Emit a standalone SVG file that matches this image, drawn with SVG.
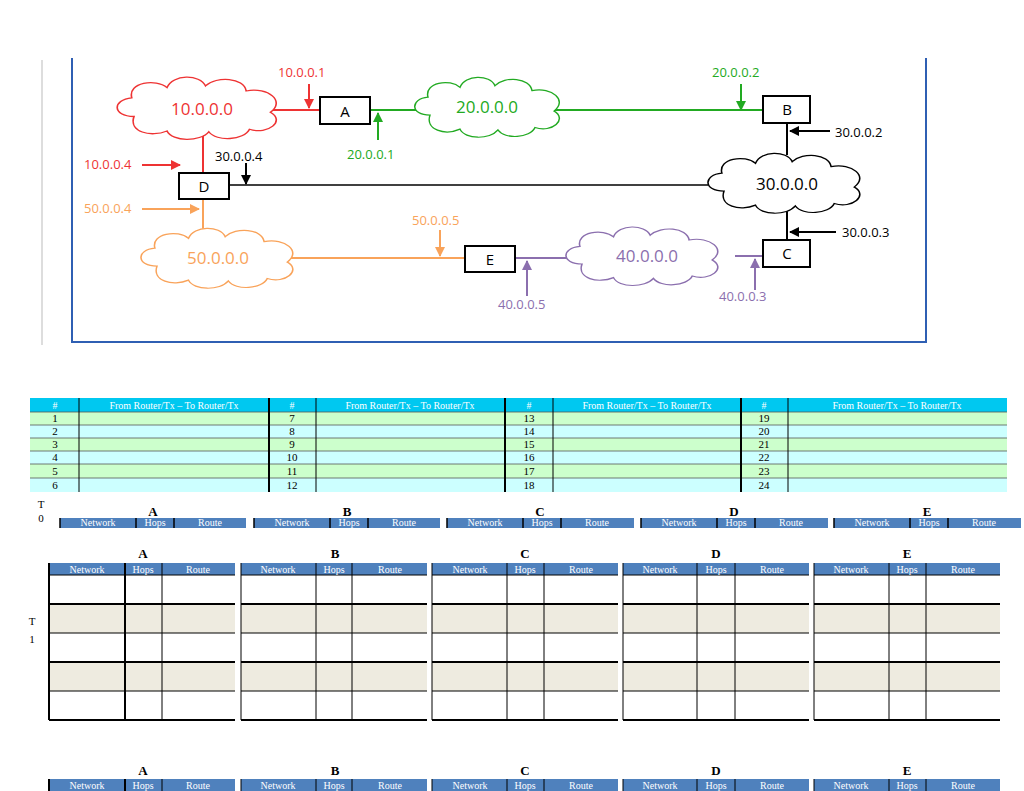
<svg xmlns="http://www.w3.org/2000/svg" width="1024" height="791" viewBox="0 0 1024 791">
<defs>
<style>
.lbl{font-family:"Open Sans","DejaVu Sans",sans-serif;font-size:13px}
.cl{font-family:"Open Sans","DejaVu Sans",sans-serif;font-size:17px}
.rt{fill:#fff;stroke:#000;stroke-width:2}
.rtt{font-family:"Open Sans","DejaVu Sans",sans-serif;font-size:15px;text-anchor:middle}
.tm{font-family:"Liberation Serif",serif;font-size:11px;text-anchor:middle}
.hd{font-family:"Liberation Serif",serif;font-size:10px;fill:#fff;text-anchor:middle}
.ttl{font-family:"Liberation Serif",serif;font-size:13px;font-weight:bold;text-anchor:middle}
</style>
<marker id="ar" viewBox="0 0 10 10" refX="9" refY="5" markerWidth="5" markerHeight="5" orient="auto"><path d="M0,0L10,5L0,10z" fill="context-stroke"/></marker>
<path id="cloud" d="M-60,10 C-80,10 -80,-10 -62,-12 C-66,-30 -40,-35 -30,-24 C-25,-40 0,-40 5,-26 C15,-38 40,-36 42,-20 C62,-25 78,-8 64,5 C78,15 62,32 45,25 C40,38 15,40 8,28 C0,40 -25,40 -30,27 C-45,35 -65,28 -60,10 Z"/>
</defs>
<rect width="1024" height="791" fill="#fff"/>
<g id="frame" fill="none">
<line x1="42" y1="60" x2="42" y2="345" stroke="#ddd" stroke-width="2"/>
<path d="M72,58V342H926V58" stroke="#2f5fb3" stroke-width="2"/>
</g>
<g id="connectors" stroke-width="2" fill="none">
<line x1="203" y1="110" x2="320" y2="110" stroke="#e33"/>
<line x1="203" y1="135" x2="203" y2="173" stroke="#e33"/>
<line x1="370" y1="110" x2="440" y2="110" stroke="#2a2"/>
<line x1="550" y1="110" x2="763" y2="110" stroke="#2a2"/>
<line x1="229" y1="185" x2="708" y2="185" stroke="#000" stroke-width="1.5"/>
<line x1="787" y1="124" x2="787" y2="155" stroke="#000"/>
<line x1="787" y1="205" x2="787" y2="240" stroke="#000"/>
<line x1="203" y1="199" x2="203" y2="232" stroke="#f9a35a"/>
<line x1="290" y1="258" x2="465" y2="258" stroke="#f9a35a"/>
<line x1="515" y1="258" x2="575" y2="258" stroke="#8b6fae"/>
<line x1="735" y1="256" x2="763" y2="256" stroke="#8b6fae"/>
<line x1="309" y1="84" x2="309" y2="108" stroke="#e33" marker-end="url(#ar)"/>
<line x1="378" y1="140" x2="378" y2="113" stroke="#2a2" marker-end="url(#ar)"/>
<line x1="741" y1="84" x2="741" y2="110" stroke="#2a2" marker-end="url(#ar)"/>
<line x1="830" y1="131" x2="790" y2="131" stroke="#000" marker-end="url(#ar)"/>
<line x1="142" y1="165" x2="180" y2="165" stroke="#e33" marker-end="url(#ar)"/>
<line x1="246" y1="163" x2="246" y2="184" stroke="#000" marker-end="url(#ar)"/>
<line x1="142" y1="209" x2="199" y2="209" stroke="#f9a35a" marker-end="url(#ar)"/>
<line x1="440" y1="230" x2="440" y2="256" stroke="#f9a35a" marker-end="url(#ar)"/>
<line x1="836" y1="232" x2="790" y2="232" stroke="#000" marker-end="url(#ar)"/>
<line x1="527" y1="296" x2="527" y2="261" stroke="#8b6fae" marker-end="url(#ar)"/>
<line x1="755" y1="290" x2="755" y2="259" stroke="#8b6fae" marker-end="url(#ar)"/>
</g>
<g id="net10"><use href="#cloud" transform="translate(200,108) scale(1.1,0.85)" fill="#fff" stroke="#e33" stroke-width="1.5"/><text class="cl" x="202" y="115" text-anchor="middle" fill="#e33">10.0.0.0</text></g>
<g id="net20"><use href="#cloud" transform="translate(490,107) scale(1.0,0.82)" fill="#fff" stroke="#2a2" stroke-width="1.5"/><text class="cl" x="487" y="113" text-anchor="middle" fill="#2a2">20.0.0.0</text></g>
<g id="net30"><use href="#cloud" transform="translate(787,183) scale(1.05,0.82)" fill="#fff" stroke="#000" stroke-width="1.5"/><text class="cl" x="787" y="190" text-anchor="middle" fill="#000">30.0.0.0</text></g>
<g id="net50"><use href="#cloud" transform="translate(220,258) scale(1.05,0.82)" fill="#fff" stroke="#f9a35a" stroke-width="1.5"/><text class="cl" x="218" y="264" text-anchor="middle" fill="#f9a35a">50.0.0.0</text></g>
<g id="net40"><use href="#cloud" transform="translate(645,256) scale(1.05,0.8)" fill="#fff" stroke="#8b6fae" stroke-width="1.5"/><text class="cl" x="647" y="262" text-anchor="middle" fill="#8b6fae">40.0.0.0</text></g>
<g id="rA"><rect class="rt" x="320" y="97" width="50" height="27"/><text class="rtt" x="345" y="117">A</text></g>
<g id="rB"><rect class="rt" x="763" y="96" width="47" height="27"/><text class="rtt" x="787" y="115">B</text></g>
<g id="rD"><rect class="rt" x="179" y="173" width="50" height="26"/><text class="rtt" x="204" y="192">D</text></g>
<g id="rE"><rect class="rt" x="465" y="246" width="50" height="26"/><text class="rtt" x="490" y="265">E</text></g>
<g id="rC"><rect class="rt" x="763" y="240" width="47" height="27"/><text class="rtt" x="787" y="259">C</text></g>
<g id="labels" class="lbl">
<text x="278" y="77" fill="#e33">10.0.0.1</text>
<text x="347" y="159" fill="#2a2">20.0.0.1</text>
<text x="712" y="77" fill="#2a2">20.0.0.2</text>
<text x="835" y="137" fill="#000">30.0.0.2</text>
<text x="84" y="169" fill="#e33">10.0.0.4</text>
<text x="215" y="161" fill="#000">30.0.0.4</text>
<text x="84" y="213" fill="#f9a35a">50.0.0.4</text>
<text x="412" y="225" fill="#f9a35a">50.0.0.5</text>
<text x="842" y="237" fill="#000">30.0.0.3</text>
<text x="498" y="309" fill="#8b6fae">40.0.0.5</text>
<text x="719" y="301" fill="#8b6fae">40.0.0.3</text>
</g>
<g id="txtable">
<rect x="30" y="398" width="977" height="14" fill="#00c8f0"/>
<rect x="30" y="412" width="977" height="13" fill="#ccffcc"/>
<rect x="30" y="425" width="977" height="13" fill="#ccffff"/>
<rect x="30" y="438" width="977" height="13" fill="#ccffcc"/>
<rect x="30" y="451" width="977" height="13" fill="#ccffff"/>
<rect x="30" y="464" width="977" height="14" fill="#ccffcc"/>
<rect x="30" y="478" width="977" height="14" fill="#ccffff"/>
<g stroke="#555" stroke-width="0.8"><line x1="30" y1="412" x2="1007" y2="412"/><line x1="30" y1="425" x2="1007" y2="425"/><line x1="30" y1="438" x2="1007" y2="438"/><line x1="30" y1="451" x2="1007" y2="451"/><line x1="30" y1="464" x2="1007" y2="464"/><line x1="30" y1="478" x2="1007" y2="478"/></g>
<g stroke="#000" stroke-width="1"><line x1="79" y1="398" x2="79" y2="492"/><line x1="316" y1="398" x2="316" y2="492"/><line x1="553" y1="398" x2="553" y2="492"/><line x1="788" y1="398" x2="788" y2="492"/></g>
<g stroke="#000" stroke-width="2"><line x1="269" y1="398" x2="269" y2="492"/><line x1="505" y1="398" x2="505" y2="492"/><line x1="741" y1="398" x2="741" y2="492"/></g>
<g class="hd"><text x="55" y="409">#</text><text x="174" y="409">From Router/Tx – To Router/Tx</text><text x="292" y="409">#</text><text x="410" y="409">From Router/Tx – To Router/Tx</text><text x="529" y="409">#</text><text x="647" y="409">From Router/Tx – To Router/Tx</text><text x="764" y="409">#</text><text x="897" y="409">From Router/Tx – To Router/Tx</text></g>
<g class="tm">
<text x="55" y="422">1</text><text x="55" y="435">2</text><text x="55" y="448">3</text><text x="55" y="461">4</text><text x="55" y="475">5</text><text x="55" y="489">6</text>
<text x="292" y="422">7</text><text x="292" y="435">8</text><text x="292" y="448">9</text><text x="292" y="461">10</text><text x="292" y="475">11</text><text x="292" y="489">12</text>
<text x="529" y="422">13</text><text x="529" y="435">14</text><text x="529" y="448">15</text><text x="529" y="461">16</text><text x="529" y="475">17</text><text x="529" y="489">18</text>
<text x="764" y="422">19</text><text x="764" y="435">20</text><text x="764" y="448">21</text><text x="764" y="461">22</text><text x="764" y="475">23</text><text x="764" y="489">24</text>
</g>
</g>
<g id="t0">
<text class="tm" x="41" y="508" font-size="12">T</text><text class="tm" x="41" y="522" font-size="12">0</text>
<g fill="#4f81bd"><rect x="60" y="518" width="186" height="10"/><rect x="254" y="518" width="186" height="10"/><rect x="447" y="518" width="187" height="10"/><rect x="641" y="518" width="187" height="10"/><rect x="834" y="518" width="187" height="10"/></g>
<g stroke="#000" stroke-width="1.5"><line x1="60" y1="518" x2="60" y2="528"/><line x1="136" y1="518" x2="136" y2="528"/><line x1="174" y1="518" x2="174" y2="528"/><line x1="254" y1="518" x2="254" y2="528"/><line x1="330" y1="518" x2="330" y2="528"/><line x1="368" y1="518" x2="368" y2="528"/><line x1="447" y1="518" x2="447" y2="528"/><line x1="523" y1="518" x2="523" y2="528"/><line x1="561" y1="518" x2="561" y2="528"/><line x1="641" y1="518" x2="641" y2="528"/><line x1="717" y1="518" x2="717" y2="528"/><line x1="755" y1="518" x2="755" y2="528"/><line x1="834" y1="518" x2="834" y2="528"/><line x1="910" y1="518" x2="910" y2="528"/><line x1="948" y1="518" x2="948" y2="528"/></g>
<g class="ttl"><text x="153" y="516">A</text><text x="347" y="516">B</text><text x="540" y="516">C</text><text x="734" y="516">D</text><text x="927" y="516">E</text></g>
<g class="hd" font-size="9"><text x="98" y="526">Network</text><text x="155" y="526">Hops</text><text x="210" y="526">Route</text><text x="292" y="526">Network</text><text x="349" y="526">Hops</text><text x="404" y="526">Route</text><text x="485" y="526">Network</text><text x="542" y="526">Hops</text><text x="597" y="526">Route</text><text x="679" y="526">Network</text><text x="736" y="526">Hops</text><text x="791" y="526">Route</text><text x="872" y="526">Network</text><text x="929" y="526">Hops</text><text x="984" y="526">Route</text></g>
</g>
<g id="t1">
<text class="tm" x="32" y="625" font-size="14">T</text><text class="tm" x="32" y="643" font-size="14">1</text>
<g class="ttl"><text x="143" y="558">A</text><text x="335" y="558">B</text><text x="525" y="558">C</text><text x="716" y="558">D</text><text x="907" y="558">E</text></g>
<g fill="#eeebe0"><rect x="49" y="604" width="186" height="29"/><rect x="49" y="662" width="186" height="29"/><rect x="241" y="604" width="186" height="29"/><rect x="241" y="662" width="186" height="29"/><rect x="432" y="604" width="186" height="29"/><rect x="432" y="662" width="186" height="29"/><rect x="623" y="604" width="186" height="29"/><rect x="623" y="662" width="186" height="29"/><rect x="814" y="604" width="186" height="29"/><rect x="814" y="662" width="186" height="29"/></g>
<g fill="#4f81bd"><rect x="49" y="563" width="186" height="12"/><rect x="241" y="563" width="186" height="12"/><rect x="432" y="563" width="186" height="12"/><rect x="623" y="563" width="186" height="12"/><rect x="814" y="563" width="186" height="12"/></g>
<g stroke="#000" stroke-width="1" fill="none">
<path d="M49,575H235M49,633H235M49,691H235M241,575H427M241,633H427M241,691H427M432,575H618M432,633H618M432,691H618M623,575H809M623,633H809M623,691H809M814,575H1000M814,633H1000M814,691H1000"/>
<path d="M162,563V720M352,563V720M544,563V720M735,563V720M926,563V720M241,563V720M316,563V720M432,563V720M507,563V720M623,563V720M697,563V720M814,563V720M889,563V720"/>
</g>
<g stroke="#000" stroke-width="2" fill="none">
<path d="M49,604H235M49,662H235M241,604H427M241,662H427M432,604H618M432,662H618M623,604H809M623,662H809M814,604H1000M814,662H1000"/>
<path d="M49,563V720M125,563V720M49,720H235M241,720H427M432,720H618M623,720H809M814,720H1000"/>
</g>
<g class="hd"><text x="87" y="573">Network</text><text x="143" y="573">Hops</text><text x="198" y="573">Route</text><text x="278" y="573">Network</text><text x="334" y="573">Hops</text><text x="390" y="573">Route</text><text x="470" y="573">Network</text><text x="525" y="573">Hops</text><text x="581" y="573">Route</text><text x="660" y="573">Network</text><text x="716" y="573">Hops</text><text x="772" y="573">Route</text><text x="851" y="573">Network</text><text x="907" y="573">Hops</text><text x="963" y="573">Route</text></g>
</g>
<g id="t2">
<g class="ttl"><text x="143" y="775">A</text><text x="335" y="775">B</text><text x="525" y="775">C</text><text x="716" y="775">D</text><text x="907" y="775">E</text></g>
<g fill="#4f81bd"><rect x="49" y="779" width="186" height="12"/><rect x="241" y="779" width="186" height="12"/><rect x="432" y="779" width="186" height="12"/><rect x="623" y="779" width="186" height="12"/><rect x="814" y="779" width="186" height="12"/></g>
<g stroke="#000" stroke-width="1"><path d="M162,779V791M352,779V791M544,779V791M735,779V791M926,779V791M241,779V791M316,779V791M432,779V791M507,779V791M623,779V791M697,779V791M814,779V791M889,779V791"/></g>
<g stroke="#000" stroke-width="2"><path d="M49,779V791M125,779V791"/></g>
<g class="hd"><text x="87" y="789">Network</text><text x="143" y="789">Hops</text><text x="198" y="789">Route</text><text x="278" y="789">Network</text><text x="334" y="789">Hops</text><text x="390" y="789">Route</text><text x="470" y="789">Network</text><text x="525" y="789">Hops</text><text x="581" y="789">Route</text><text x="660" y="789">Network</text><text x="716" y="789">Hops</text><text x="772" y="789">Route</text><text x="851" y="789">Network</text><text x="907" y="789">Hops</text><text x="963" y="789">Route</text></g>
</g>
</svg>
